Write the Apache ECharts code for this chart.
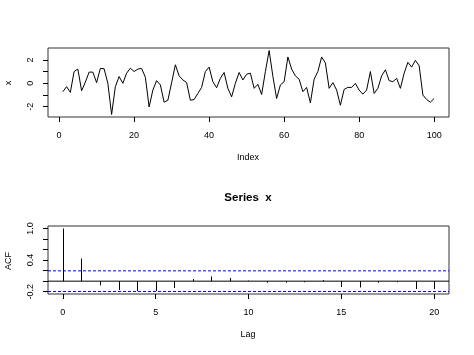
<!DOCTYPE html>
<html><head><meta charset="utf-8">
<script src="https://cdn.jsdelivr.net/npm/echarts@6/dist/echarts.min.js"></script>
<style>html,body{margin:0;padding:0;background:#fff}#c{width:474px;height:355px}</style>
</head><body><div id="c"></div>
<script>
// ---- data ----
const seriesX = [
 -0.72,-0.29,-0.78,1.01,1.22,-0.64,0.10,0.96,0.96,0.06,
 1.28,1.25,0.00,-2.67,-0.29,0.58,0.00,0.87,1.30,1.01,
 1.22,1.28,0.52,-2.03,-0.58,0.23,-0.14,-1.62,-1.45,0.05,
 1.59,0.64,0.29,0.06,-1.45,-1.39,-0.87,-0.35,1.01,1.39,
 0.14,-0.38,0.43,0.93,-0.43,-1.16,0.00,0.93,0.29,0.78,
 0.87,-0.43,-0.09,-0.96,1.01,2.81,0.60,-1.30,-0.14,0.14,
 2.26,1.22,0.64,0.35,-0.72,-0.35,-1.68,0.35,1.01,2.26,
 1.74,-0.43,0.06,-0.58,-1.88,-0.52,-0.35,-0.35,0.00,-0.58,
 -0.93,-0.58,1.01,-0.87,-0.43,0.64,1.16,0.23,0.14,0.43,
 -0.43,0.87,1.80,1.39,1.97,1.51,-1.01,-1.39,-1.62,-1.30
];
const acfLags = [0,1,2,3,4,5,6,7,8,9,10,11,12,13,14,15,16,17,18,19,20];
const acfValues = [1.0,0.43,-0.08,-0.17,-0.19,-0.19,-0.13,0.04,0.09,0.06,0.01,
 -0.03,-0.03,-0.02,0.02,-0.11,-0.12,-0.03,-0.02,-0.15,-0.15];
const ciLimit = 0.196;
const indexTicks = [0,20,40,60,80,100];
const xTicksTop = [-2,-1,0,1,2];
const xLabelsTop = [-2,0,2];
const lagTicks = [0,5,10,15,20];
const acfTicks = [-0.2,0,0.2,0.4,0.6,0.8,1.0];
const acfLabels = [-0.2,0.4,1.0];
const titleText = 'Series  x';

// ---- build ----
const FONT = 'Liberation Sans, Arial, sans-serif';
function ext(a, b){ const d=(b-a)*0.04; return [a-d, b+d]; }
const idx = seriesX.map((v,i)=>[i+1, v]);
const xr = ext(1, seriesX.length);
const yr = ext(Math.min(...seriesX), Math.max(...seriesX));
const lr = ext(Math.min(...acfLags), Math.max(...acfLags));
const ar = ext(Math.min(-ciLimit, ...acfValues), Math.max(ciLimit, ...acfValues));

const tickStyle = {show:true, inside:false, length:5, lineStyle:{color:'#000', width:1}};
const lab = {fontSize:9, color:'#000', fontFamily:FONT};
const noLine = {show:false, onZero:false};

function hline(y, color, type){
  return {type:'line', xAxisIndex:1, yAxisIndex:1, data:[[lr[0], y],[lr[1], y]], silent:true, z:1,
    showSymbol:false, symbol:'none', lineStyle:{color:color, type:type, width:1}};
}

const chart = echarts.init(document.getElementById('c'), null, {renderer:'canvas'});
chart.setOption({
  animation:false,
  backgroundColor:'#fff',
  grid:[
    {left:48, right:25, top:48, height:69, show:true, borderColor:'#333', borderWidth:1, backgroundColor:'transparent', outerBoundsMode:'none'},
    {left:48, right:25, top:226, height:68, show:true, borderColor:'#333', borderWidth:1, backgroundColor:'transparent', outerBoundsMode:'none'}
  ],
  xAxis:[
    {type:'value', gridIndex:0, position:'bottom', min:xr[0], max:xr[1], axisLine:noLine, splitLine:{show:false},
     axisTick:Object.assign({customValues:indexTicks}, tickStyle),
     axisLabel:Object.assign({customValues:indexTicks, margin:14}, lab)},
    {type:'value', gridIndex:1, position:'bottom', min:lr[0], max:lr[1], axisLine:noLine, splitLine:{show:false},
     axisTick:Object.assign({customValues:lagTicks}, tickStyle),
     axisLabel:Object.assign({customValues:lagTicks, margin:14}, lab)}
  ],
  yAxis:[
    {type:'value', gridIndex:0, position:'left', min:yr[0], max:yr[1], axisLine:noLine, splitLine:{show:false},
     axisTick:Object.assign({customValues:xTicksTop}, tickStyle),
     axisLabel:Object.assign({customValues:xLabelsTop, margin:13, rotate:90, formatter:v=>String(Math.round(v))}, lab)},
    {type:'value', gridIndex:1, position:'left', min:ar[0], max:ar[1], axisLine:noLine, splitLine:{show:false},
     axisTick:Object.assign({customValues:acfTicks}, tickStyle),
     axisLabel:Object.assign({customValues:acfLabels, margin:13, rotate:90, formatter:v=>(+v).toFixed(1)}, lab)}
  ],
  series:[
    {type:'line', xAxisIndex:0, yAxisIndex:0, data:idx, showSymbol:false, symbol:'none',
     lineStyle:{color:'#000', width:1}, silent:true},
    hline(0, '#000', 'solid'),
    hline(ciLimit, '#0000ff', [3,2]),
    hline(-ciLimit, '#0000ff', [3,2]),
    {type:'custom', xAxisIndex:1, yAxisIndex:1, data:acfLags.map((l,i)=>[l, acfValues[i]]),
     encode:{x:0, y:1}, silent:true, z:3,
     renderItem:function(params, api){
       const p0 = api.coord([api.value(0), 0]);
       const p1 = api.coord([api.value(0), api.value(1)]);
       const x = Math.round(p0[0]) + 0.5;
       return {type:'line', shape:{x1:x, y1:p0[1], x2:x, y2:p1[1]}, style:{stroke:'#000', lineWidth:1}};
     }}
  ],
  graphic:[
    {type:'text', x:248, y:158, style:{text:'Index', font:'9px '+FONT, fill:'#000', align:'center', verticalAlign:'middle'}},
    {type:'text', x:248, y:335, style:{text:'Lag', font:'9px '+FONT, fill:'#000', align:'center', verticalAlign:'middle'}},
    {type:'text', x:248, y:198, style:{text:titleText, font:'bold 11.5px '+FONT, fill:'#000', align:'center', verticalAlign:'middle'}},
    {type:'text', x:9, y:83, rotation:Math.PI/2, style:{text:'x', font:'9px '+FONT, fill:'#000', align:'center', verticalAlign:'middle'}},
    {type:'text', x:9, y:261, rotation:Math.PI/2, style:{text:'ACF', font:'9px '+FONT, fill:'#000', align:'center', verticalAlign:'middle'}}
  ]
});
</script>
</body></html>
